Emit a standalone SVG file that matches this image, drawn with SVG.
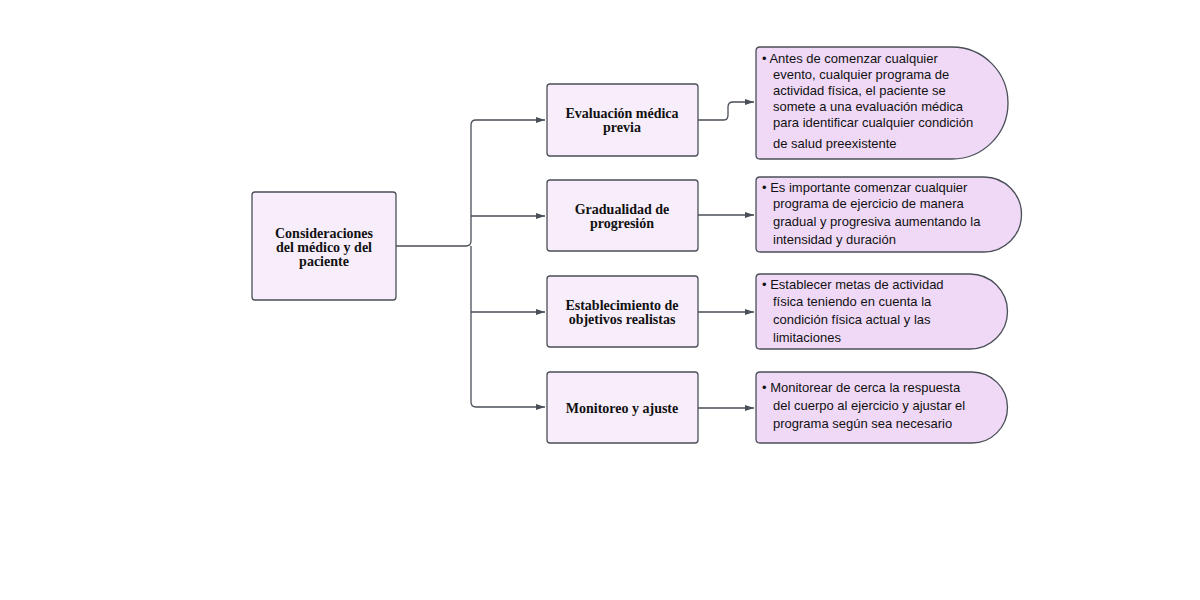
<svg xmlns="http://www.w3.org/2000/svg" width="1200" height="600" viewBox="0 0 1200 600">
<style>
.n{fill:#f8eefb;stroke:#4a4f57;stroke-width:1.3}
.d{fill:#f0d9f7;stroke:#4a4f57;stroke-width:1.3}
.t{font-family:"Liberation Serif",serif;font-weight:bold;font-size:14px;fill:#111;text-anchor:middle}
.b{font-family:"Liberation Sans",Arial,sans-serif;font-size:13px;fill:#111}
.c{fill:none;stroke:#4a4f57;stroke-width:1.3}
</style>
<defs><marker id="a" markerWidth="10" markerHeight="8" refX="9" refY="4" orient="auto" markerUnits="userSpaceOnUse"><path d="M0,1 L9,4 L0,7Z" fill="#4a4f57"/></marker></defs>
<rect width="1200" height="600" fill="#fff"/>
<g id="connectors">
<path class="c" d="M396,246 H466 Q471,246 471,241 V125 Q471,120 476,120 H545" marker-end="url(#a)"/>
<path class="c" d="M471,246 V402 Q471,407 476,407 H545" marker-end="url(#a)"/>
<path class="c" d="M471,216 H545" marker-end="url(#a)"/>
<path class="c" d="M471,312 H545" marker-end="url(#a)"/>
<path class="c" d="M698,120 H724 Q728,120 728,115 V107 Q728,102 733,102 H754" marker-end="url(#a)"/>
<path class="c" d="M698,215 H754" marker-end="url(#a)"/>
<path class="c" d="M698,312 H754" marker-end="url(#a)"/>
<path class="c" d="M698,408 H754" marker-end="url(#a)"/>
</g>
<g id="root"><rect class="n" x="252" y="192" width="144" height="108" rx="3"/>
<text class="t" x="324" y="238">Consideraciones</text><text class="t" x="324" y="252">del médico y del</text><text class="t" x="324" y="266">paciente</text></g>
<g id="m1"><rect class="n" x="547" y="84" width="151" height="72" rx="3"/><text class="t" x="622" y="118">Evaluación médica</text><text class="t" x="622" y="132">previa</text></g>
<g id="m2"><rect class="n" x="547" y="180" width="151" height="71" rx="3"/><text class="t" x="622" y="214">Gradualidad de</text><text class="t" x="622" y="228">progresión</text></g>
<g id="m3"><rect class="n" x="547" y="276" width="151" height="71" rx="3"/><text class="t" x="622" y="310">Establecimiento de</text><text class="t" x="622" y="324">objetivos realistas</text></g>
<g id="m4"><rect class="n" x="547" y="372" width="151" height="71" rx="3"/><text class="t" x="622" y="413">Monitoreo y ajuste</text></g>
<g id="d1"><path class="d" d="M760,47 H952 A56,56 0 0 1 952,159 H760 Q756,159 756,155 V51 Q756,47 760,47Z"/>
<text class="b" x="762" y="63">• Antes de comenzar cualquier</text><text class="b" x="773" y="79">evento, cualquier programa de</text><text class="b" x="773" y="95">actividad física, el paciente se</text><text class="b" x="773" y="111">somete a una evaluación médica</text><text class="b" x="773" y="127">para identificar cualquier condición</text><text class="b" x="773" y="148">de salud preexistente</text></g>
<g id="d2"><path class="d" d="M760,177 H984 A37.5,37.5 0 0 1 984,252 H760 Q756,252 756,248 V181 Q756,177 760,177Z"/>
<text class="b" x="762" y="192">• Es importante comenzar cualquier</text><text class="b" x="773" y="208">programa de ejercicio de manera</text><text class="b" x="773" y="226">gradual y progresiva aumentando la</text><text class="b" x="773" y="244">intensidad y duración</text></g>
<g id="d3"><path class="d" d="M760,274 H970 A37.5,37.5 0 0 1 970,349 H760 Q756,349 756,345 V278 Q756,274 760,274Z"/>
<text class="b" x="762" y="289">• Establecer metas de actividad</text><text class="b" x="773" y="306">física teniendo en cuenta la</text><text class="b" x="773" y="324">condición física actual y las</text><text class="b" x="773" y="342">limitaciones</text></g>
<g id="d4"><path class="d" d="M760,372 H972 A35.5,35.5 0 0 1 972,443 H760 Q756,443 756,439 V376 Q756,372 760,372Z"/>
<text class="b" x="762" y="392">• Monitorear de cerca la respuesta</text><text class="b" x="773" y="410">del cuerpo  al ejercicio y ajustar el</text><text class="b" x="773" y="428">programa según sea necesario</text></g>
</svg>
